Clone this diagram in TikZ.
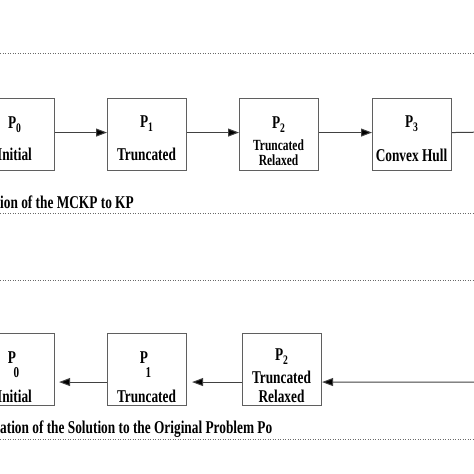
\documentclass[tikz,border=0pt]{standalone}
\usepackage{fontspec}
\setmainfont{Liberation Serif}[FakeStretch=0.74]
\usetikzlibrary{arrows.meta}
\definecolor{boxgray}{RGB}{95,95,95}
\definecolor{arrgray}{RGB}{65,65,65}
\definecolor{dotgray}{RGB}{105,105,105}
\newcommand\subs[1]{\raisebox{-4pt}{\fontsize{13}{13}\selectfont#1}}
\begin{document}
\begin{tikzpicture}[x=1pt,y=-1pt,
 box/.style={draw=boxgray,line width=1.1pt,minimum width=79pt,minimum height=72pt,inner sep=0pt,anchor=north west},
 txt/.style={font=\bfseries\fontsize{18}{18}\selectfont,inner sep=0pt,anchor=base},
 small/.style={font=\bfseries\fontsize{15.5}{15.5}\selectfont,inner sep=0pt,anchor=base},
 digit/.style={font=\bfseries\fontsize{15}{15}\selectfont,inner sep=0pt,anchor=base},
 captxt/.style={font=\bfseries\fontsize{18}{18}\selectfont,inner sep=0pt,anchor=base west},
 arr/.style={draw=arrgray,line width=1pt,-{Triangle[length=11pt,width=8pt,fill=black]}},
 dots/.style={draw=dotgray,line width=0.9pt,dash pattern=on 1pt off 1.5pt}]
\useasboundingbox (0,0) rectangle (474,474);
\clip (0,0) rectangle (474,474);
% dotted separators
\draw[dots] (0,53) -- (474,53);
\draw[dots] (0,213) -- (474,213);
\draw[dots] (0,280) -- (474,280);
\draw[dots] (0,439) -- (474,439);
% top row boxes
\node[box] (b0) at (-25,98) {};
\node[box] (b1) at (107,98) {};
\node[box] (b2) at (239,98) {};
\node[box] (b3) at (372,98) {};
\coordinate (r1) at (490,132);
\node[txt] (b0p) at (14.5,128) {P\subs{0}};
\node[txt] (b0t) at (14.5,160) {Initial};
\node[txt] (b1p) at (146.5,127) {P\subs{1}};
\node[txt] (b1t) at (146.5,160) {Truncated};
\node[txt] (b2p) at (278.5,128) {P\subs{2}};
\node[small] (b2t) at (278.5,150.5) {Truncated};
\node[small] (b2r) at (278.5,165) {Relaxed};
\node[txt] (b3p) at (411.5,127) {P\subs{3}};
\node[txt] (b3t) at (411.5,161) {Convex Hull};
\draw[arr] ([yshift=2pt]b0.east) -- ([yshift=2pt]b1.west);
\draw[arr] ([yshift=2pt]b1.east) -- ([yshift=2pt]b2.west);
\draw[arr] ([yshift=2pt]b2.east) -- ([yshift=2pt]b3.west);
\draw[draw=arrgray,line width=1pt] ([yshift=2pt]b3.east) -- (r1);
\node[captxt] (cap1) at (0,208) {ion of the MCKP to KP};
% bottom row boxes
\node[box] (c0) at (-25,333) {};
\node[box] (c1) at (107,333) {};
\node[box] (c2) at (242,333) {};
\coordinate (r2) at (490,382);
\node[txt] (c0p) at (12,363) {P};
\node[digit] (c0d) at (16.5,377) {0};
\node[txt] (c0t) at (14.5,402) {Initial};
\node[txt] (c1p) at (144,363) {P};
\node[digit] (c1d) at (148.5,377) {1};
\node[txt] (c1t) at (146.5,402) {Truncated};
\node[txt] (c2p) at (281.5,360) {P\subs{2}};
\node[txt] (c2t) at (281.5,383) {Truncated};
\node[txt] (c2r) at (281.5,402) {Relaxed};
\draw[arr] (r2) -- ([yshift=-12.5pt]c2.east);
\draw[arr] ([yshift=-12.5pt]c2.west) -- ([xshift=5pt,yshift=-12.5pt]c1.east);
\draw[arr] ([yshift=-12.5pt]c1.west) -- ([xshift=4pt,yshift=-12.5pt]c0.east);
\node[captxt] (cap2) at (0,433) {ation of the Solution to the Original Problem Po};
\end{tikzpicture}
\end{document}
